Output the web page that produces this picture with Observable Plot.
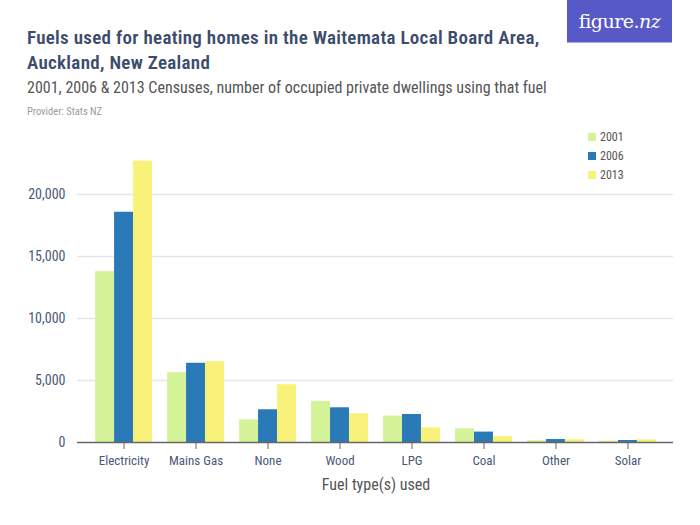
<!DOCTYPE html>
<html>
<head>
<meta charset="utf-8">
<script src="https://cdn.jsdelivr.net/npm/d3@7"></script>
<script src="https://cdn.jsdelivr.net/npm/@observablehq/plot@0.6"></script>
<style>
  body { margin: 0; background: #fff; }
  #wrap {
    position: relative; width: 700px; height: 525px; overflow: hidden;
    font-family: "Roboto Condensed", Roboto, sans-serif;
  }
  #title {
    position: absolute; left: 27px; top: 25px; width: 540px; margin: 0;
    font-size: 19px; line-height: 25px; font-weight: 600; color: #3d4b6d;
    letter-spacing: 0.3px;
  }
  #subtitle {
    position: absolute; left: 27px; top: 78px; margin: 0; white-space: nowrap;
    font-size: 16px; line-height: 20px; color: #555;
  }
  #provider {
    position: absolute; left: 27px; top: 106px; margin: 0;
    font-size: 10.5px; line-height: 12px; color: #9a9a9a;
  }
  #logo {
    position: absolute; left: 567px; top: 0; width: 105px; height: 42px;
    background: #5659c6; border-bottom: 1px solid #a9abe3;
    color: #fff; font-family: "DejaVu Serif", "Liberation Serif", serif;
    font-size: 19px; line-height: 42px; text-align: center; letter-spacing: -0.5px;
  }
  #logo i { font-style: italic; }
  #chart { position: absolute; left: 0; top: 120px; }
  #legend { position: absolute; left: 588px; top: 127px; }
  .row { height: 19px; display: flex; align-items: center; font-size: 12px; color: #555; }
  .sw { width: 8px; height: 8px; margin-right: 4px; }
</style>
</head>
<body>
<div id="wrap">
  <div id="title">Fuels used for heating homes in the Waitemata Local Board Area, Auckland, New Zealand</div>
  <div id="subtitle">2001, 2006 &amp; 2013 Censuses, number of occupied private dwellings using that fuel</div>
  <div id="provider">Provider: Stats NZ</div>
  <div id="logo">figure.<i>nz</i></div>
  <div id="chart"></div>
  <div id="legend"></div>
</div>
<script>
// Fuel categories and census years
const fuels = ["Electricity", "Mains Gas", "None", "Wood", "LPG", "Coal", "Other", "Solar"];
const years = ["2001", "2006", "2013"];

// Occupied private dwellings using each fuel, by census
const values2001 = [13780, 5630, 1830, 3310, 2130, 1100, 140, 110];
const values2006 = [18570, 6390, 2640, 2800, 2260, 840, 240, 160];
const values2013 = [22690, 6520, 4660, 2320, 1190, 490, 220, 220];

const yTicks = [0, 5000, 10000, 15000, 20000];
const yearColors = ["#d4f399", "#2a7ab8", "#f9f27a"];

const series = [values2001, values2006, values2013];
const rows = series.flatMap((vals, i) =>
  fuels.map((fuel, j) => ({ fuel, year: years[i], value: vals[j] })));

// Band geometry: each fuel band is split into three side-by-side bars
const width = 700, marginLeft = 80, marginRight = 29, padding = 0.21;
const step = (width - marginLeft - marginRight) / (fuels.length + padding);
const third = step * (1 - padding) / 3;

const slate = "#4a5878";

const chart = Plot.plot({
  width,
  height: 405,
  marginLeft,
  marginRight,
  marginTop: 12,
  marginBottom: 83,
  style: { background: "transparent", fontFamily: "'Roboto Condensed', Roboto, sans-serif", overflow: "visible" },
  x: { domain: fuels, padding, round: false, axis: null },
  y: { domain: [0, 25000], axis: null },
  color: { domain: years, range: yearColors },
  marks: [
    Plot.ruleY(yTicks.slice(1), { stroke: "#e6e6e6", strokeWidth: 1.5, insetLeft: -3, insetRight: -2 }),
    ...years.map((yr, i) =>
      Plot.barY(rows.filter(d => d.year === yr), {
        x: "fuel", y: "value", fill: "year",
        insetLeft: third * i, insetRight: third * (2 - i)
      })),
    Plot.ruleY([0], { stroke: "#666", strokeWidth: 1.5, insetLeft: -3, insetRight: -2 }),
    Plot.axisY({ ticks: yTicks, tickSize: 0, tickPadding: 15, tickFormat: d3.format(","),
      fontSize: 14, fill: slate, label: null }),
    Plot.axisX({ tickSize: 7, tickPadding: 6, stroke: "#666", fill: slate, fontSize: 13, label: null }),
    Plot.text(["Fuel type(s) used"], { frameAnchor: "bottom", dy: 42, lineAnchor: "middle",
      fontSize: 16, fill: "#555" })
  ]
});
document.getElementById("chart").appendChild(chart);

// Colour legend for the census years
const legend = document.getElementById("legend");
years.forEach((yr, i) => {
  const row = document.createElement("div");
  row.className = "row";
  const sw = document.createElement("span");
  sw.className = "sw";
  sw.style.background = yearColors[i];
  row.appendChild(sw);
  row.appendChild(document.createTextNode(yr));
  legend.appendChild(row);
});
</script>
</body>
</html>
